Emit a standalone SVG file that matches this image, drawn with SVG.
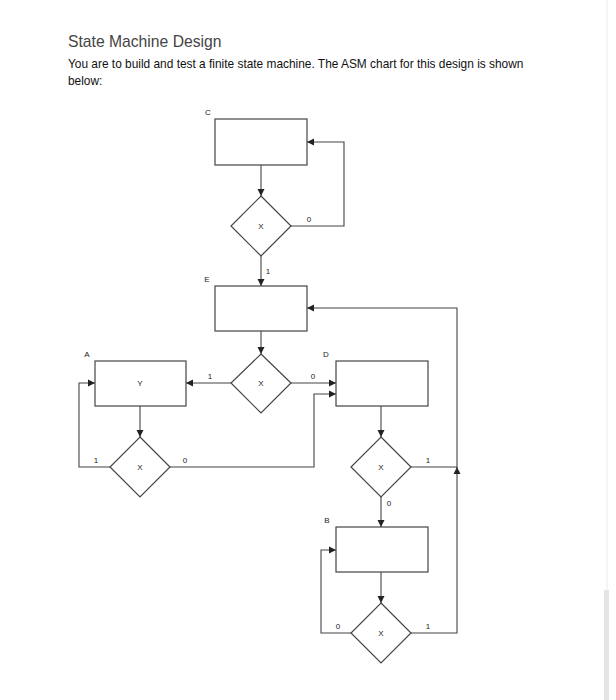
<svg xmlns="http://www.w3.org/2000/svg" width="616" height="700" viewBox="0 0 616 700">
<style>
.b{fill:#fff;stroke:#444;stroke-width:1.2}
.c{fill:none;stroke:#444;stroke-width:1.1}
.t{font-family:"Liberation Sans",Arial,sans-serif;font-size:8px;fill:#222;text-anchor:middle}
</style>
<defs><marker id="a" markerWidth="8" markerHeight="8" refX="7" refY="4" orient="auto" markerUnits="userSpaceOnUse"><path d="M0,0.5L7,4L0,7.5z" fill="#222"/></marker></defs>
<rect width="616" height="700" fill="#fff"/>
<line x1="607" y1="0" x2="607" y2="700" stroke="#eee" stroke-width="1"/>
<rect x="604" y="590" width="5" height="110" fill="#e4e4e4"/>
<text x="68" y="47" font-family="Helvetica,'Liberation Sans',Arial,sans-serif" font-size="15.7" fill="#444">State Machine Design</text>
<text font-family="'Liberation Sans',Arial,sans-serif" font-size="11.9" fill="#111"><tspan x="68" y="68">You are to build and test a finite state machine. The ASM chart for this design is shown</tspan><tspan x="68" y="85">below:</tspan></text>
<g id="connectors">
<path class="c" d="M261,165V196" marker-end="url(#a)"/>
<path class="c" d="M291,226H344V142H307" marker-end="url(#a)"/>
<path class="c" d="M261,255V286" marker-end="url(#a)"/>
<path class="c" d="M261,331V354" marker-end="url(#a)"/>
<path class="c" d="M231,383H186" marker-end="url(#a)"/>
<path class="c" d="M291,383H336" marker-end="url(#a)"/>
<path class="c" d="M140,406V437" marker-end="url(#a)"/>
<path class="c" d="M110,467H79V383H95" marker-end="url(#a)"/>
<path class="c" d="M170,467H314V394H336" marker-end="url(#a)"/>
<path class="c" d="M381,406V437" marker-end="url(#a)"/>
<path class="c" d="M381,497V527" marker-end="url(#a)"/>
<path class="c" d="M411,467H457"/>
<path class="c" d="M411,633H457V467" marker-end="url(#a)"/>
<path class="c" d="M457,470V308H307" marker-end="url(#a)"/>
<path class="c" d="M381,572V603" marker-end="url(#a)"/>
<path class="c" d="M351,633H321V550H336" marker-end="url(#a)"/>
<text class="t" x="309" y="222">0</text>
<text class="t" x="268" y="274">1</text>
<text class="t" x="210" y="379">1</text>
<text class="t" x="313" y="379">0</text>
<text class="t" x="96" y="463">1</text>
<text class="t" x="185" y="463">0</text>
<text class="t" x="428" y="463">1</text>
<text class="t" x="389" y="506">0</text>
<text class="t" x="338" y="629">0</text>
<text class="t" x="428" y="629">1</text>
</g>
<g id="C"><rect class="b" x="215" y="119" width="92" height="46"/><text class="t" x="208" y="115">C</text></g>
<g id="dC"><path class="b" d="M261,196L291,226L261,256L231,226Z"/><text class="t" x="261" y="229">X</text></g>
<g id="E"><rect class="b" x="215" y="286" width="92" height="45"/><text class="t" x="207" y="282">E</text></g>
<g id="dE"><path class="b" d="M261,354L291,383L261,413L231,383Z"/><text class="t" x="261" y="386">X</text></g>
<g id="A"><rect class="b" x="95" y="361" width="91" height="45"/><text class="t" x="87" y="357">A</text><text class="t" x="140" y="386">Y</text></g>
<g id="dA"><path class="b" d="M140,437L170,467L140,497L110,467Z"/><text class="t" x="140" y="470">X</text></g>
<g id="D"><rect class="b" x="336" y="361" width="92" height="45"/><text class="t" x="326" y="357">D</text></g>
<g id="dD"><path class="b" d="M381,437L411,467L381,497L351,467Z"/><text class="t" x="381" y="470">X</text></g>
<g id="B"><rect class="b" x="336" y="527" width="92" height="45"/><text class="t" x="327" y="523">B</text></g>
<g id="dB"><path class="b" d="M381,603L411,633L381,663L351,633Z"/><text class="t" x="381" y="636">X</text></g>
</svg>
